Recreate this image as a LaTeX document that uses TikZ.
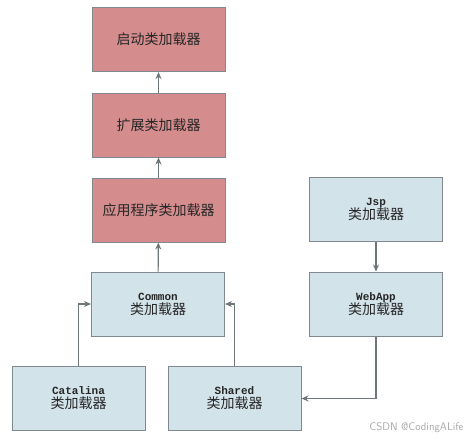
\documentclass[tikz,border=0pt]{standalone}
\usepackage{fontspec}
\newfontfamily\cjk{Noto Sans CJK SC}
\newfontfamily\monof{Liberation Mono}
\usetikzlibrary{arrows.meta}
\definecolor{redfill}{HTML}{D48C8D}
\definecolor{bluefill}{HTML}{D3E3EA}
\definecolor{boxline}{HTML}{808A8E}
\definecolor{arrowcol}{HTML}{6E7679}
\definecolor{wmark}{HTML}{A8A8A8}
\tikzset{
  redbox/.style={draw=boxline, line width=1pt, fill=redfill, minimum width=133pt, minimum height=64pt, inner sep=0pt, align=center, font=\cjk\fontsize{14}{16}\selectfont, text=black!85},
  bluebox/.style={draw=boxline, line width=1pt, fill=bluefill, minimum width=133pt, minimum height=64pt, inner sep=0pt, align=center, font=\cjk\fontsize{14}{16}\selectfont, text=black!85},
  conn/.style={draw=arrowcol, line width=1.1pt, -{Stealth[length=7pt,width=6pt]}}
}
\newcommand{\lat}[1]{{\monof\bfseries\fontsize{11}{13}\selectfont #1}}
\begin{document}
\begin{tikzpicture}[x=1pt,y=-1pt]
\useasboundingbox[fill=white] (0,0) rectangle (474,440);
\node[redbox] (boot) at (158.5,39.5) {启动类加载器};
\node[redbox] (ext) at (158.5,125) {扩展类加载器};
\node[redbox] (app) at (158.5,210) {应用程序类加载器};
\node[bluebox] (common) at (158,304) {\lat{Common}\\[-2pt]类加载器};
\node[bluebox] (jsp) at (376,209.5) {\lat{Jsp}\\[-2pt]类加载器};
\node[bluebox] (webapp) at (376,304) {\lat{WebApp}\\[-2pt]类加载器};
\node[bluebox] (catalina) at (78.5,398.5) {\lat{Catalina}\\[-2pt]类加载器};
\node[bluebox] (shared) at (234.5,398.5) {\lat{Shared}\\[-2pt]类加载器};
\draw[conn] (ext) -- (boot);
\draw[conn] (app) -- (ext);
\draw[conn] (common) -- (app);
\draw[conn] (jsp) -- (webapp);
\draw[conn] (catalina.north) |- (common.west);
\draw[conn] (shared.north) |- (common.east);
\draw[conn] (webapp.south) |- (shared.east);
\node[text=wmark, font=\fontsize{11}{13}\selectfont\sffamily, anchor=east] (wm) at (467,428) {CSDN @CodingALife};
\end{tikzpicture}
\end{document}
